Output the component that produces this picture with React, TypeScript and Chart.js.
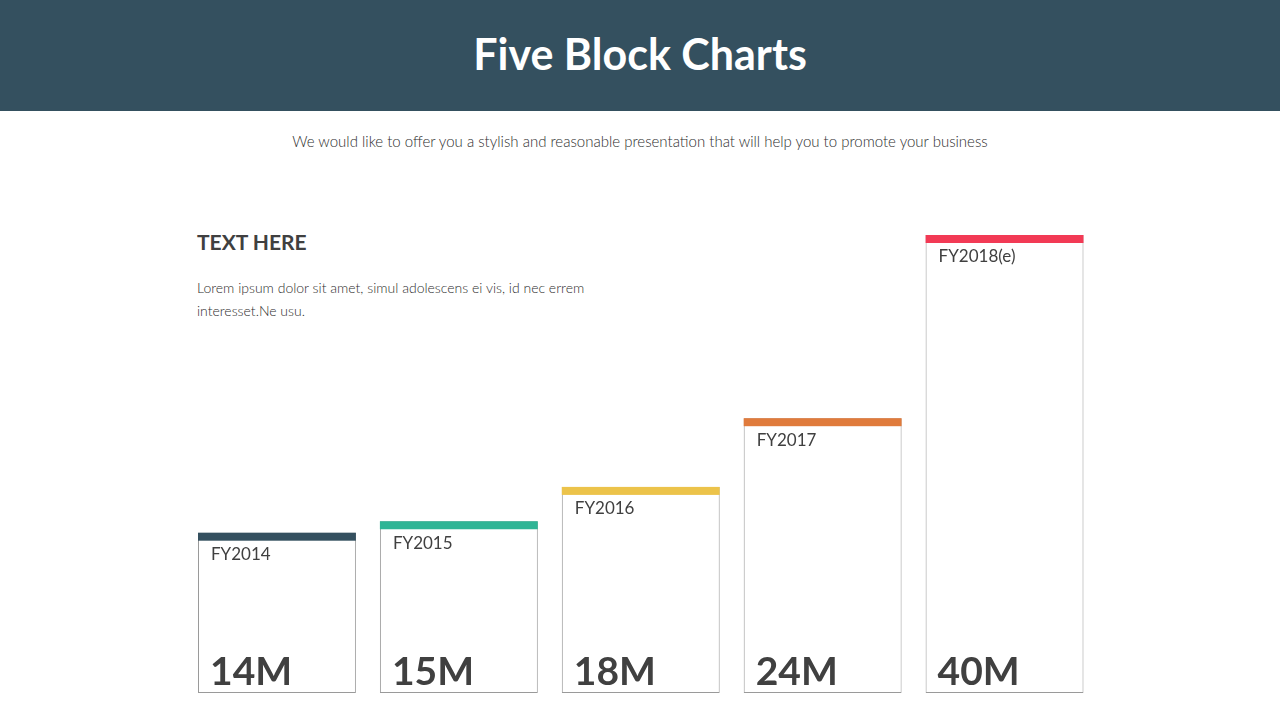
import React, { useEffect, useRef } from "react";
import { Chart, registerables } from "chart.js";

Chart.register(...registerables);

const categories = ["FY2014", "FY2015", "FY2016", "FY2017", "FY2018(e)"];
const values = [14, 15, 18, 24, 40];
const valueLabels = ["14M", "15M", "18M", "24M", "40M"];
const capColors = ["#34505f", "#2fb596", "#ecc34a", "#e07b3c", "#f23a55"];

const FONT = "Lato, 'Open Sans', sans-serif";

const capPlugin = {
  id: "caps",
  afterDatasetsDraw(chart: any) {
    const ctx = chart.ctx;
    const meta = chart.getDatasetMeta(0);
    meta.data.forEach((bar: any, i: number) => {
      const w = bar.width;
      const left = bar.x - w / 2;
      ctx.save();
      ctx.fillStyle = capColors[i];
      ctx.fillRect(left, bar.y, w, 8);
      ctx.fillStyle = "#404040";
      ctx.textBaseline = "middle";
      ctx.textAlign = "left";
      ctx.font = `17px ${FONT}`;
      ctx.fillText(categories[i], left + 13, bar.y + 22);
      ctx.font = `bold 39px ${FONT}`;
      ctx.textBaseline = "alphabetic";
      ctx.fillText(valueLabels[i], left + 12, bar.base - 8);
      ctx.restore();
    });
  },
};

export default function App() {
  const ref = useRef<HTMLCanvasElement>(null);
  useEffect(() => {
    if (!ref.current) return;
    const chart = new Chart(ref.current, {
      type: "bar",
      data: {
        labels: categories,
        datasets: [
          {
            data: values,
            backgroundColor: "#ffffff",
            borderColor: "#9a9a9a",
            borderWidth: 1,
            borderSkipped: false,
            barPercentage: 1,
            categoryPercentage: 0.868,
          },
        ],
      },
      options: {
        animation: false,
        responsive: false,
        maintainAspectRatio: false,
        layout: { padding: { left: 186, right: 184.5, top: 235, bottom: 27 } },
        plugins: { legend: { display: false }, tooltip: { enabled: false } },
        scales: {
          x: { display: false },
          y: { display: false, min: 0, max: 40 },
        },
      },
      plugins: [capPlugin],
    });
    return () => chart.destroy();
  }, []);

  return (
    <div
      style={{
        position: "fixed",
        left: 0,
        top: 0,
        width: 1280,
        height: 720,
        background: "#ffffff",
        fontFamily: FONT,
        overflow: "hidden",
      }}
    >
      <div
        style={{
          position: "absolute",
          left: 0,
          top: 0,
          width: 1280,
          height: 111,
          background: "#34505f",
        }}
      />
      <div
        style={{
          position: "absolute",
          left: 0,
          top: 27,
          width: 1280,
          lineHeight: "54px",
          textAlign: "center",
          color: "#ffffff",
          fontWeight: 700,
          fontSize: 43,
        }}
      >
        Five Block Charts
      </div>
      <div
        style={{
          position: "absolute",
          left: 0,
          top: 132,
          width: 1280,
          textAlign: "center",
          fontSize: 15,
          fontWeight: 300,
          color: "#2e2e2e",
        }}
      >
        We would like to offer you a stylish and reasonable presentation that will help you to promote your business
      </div>
      <div
        style={{
          position: "absolute",
          left: 197,
          top: 229,
          fontSize: 21,
          fontWeight: 700,
          color: "#404040",
        }}
      >
        TEXT HERE
      </div>
      <div
        style={{
          position: "absolute",
          left: 197,
          top: 276,
          width: 400,
          fontSize: 14,
          fontWeight: 300,
          lineHeight: "23px",
          color: "#2e2e2e",
        }}
      >
        Lorem ipsum dolor sit amet, simul adolescens ei vis, id nec errem interesset.Ne usu.
      </div>
      <canvas
        ref={ref}
        width={1280}
        height={720}
        style={{ position: "absolute", left: 0, top: 0, width: 1280, height: 720 }}
      />
    </div>
  );
}
